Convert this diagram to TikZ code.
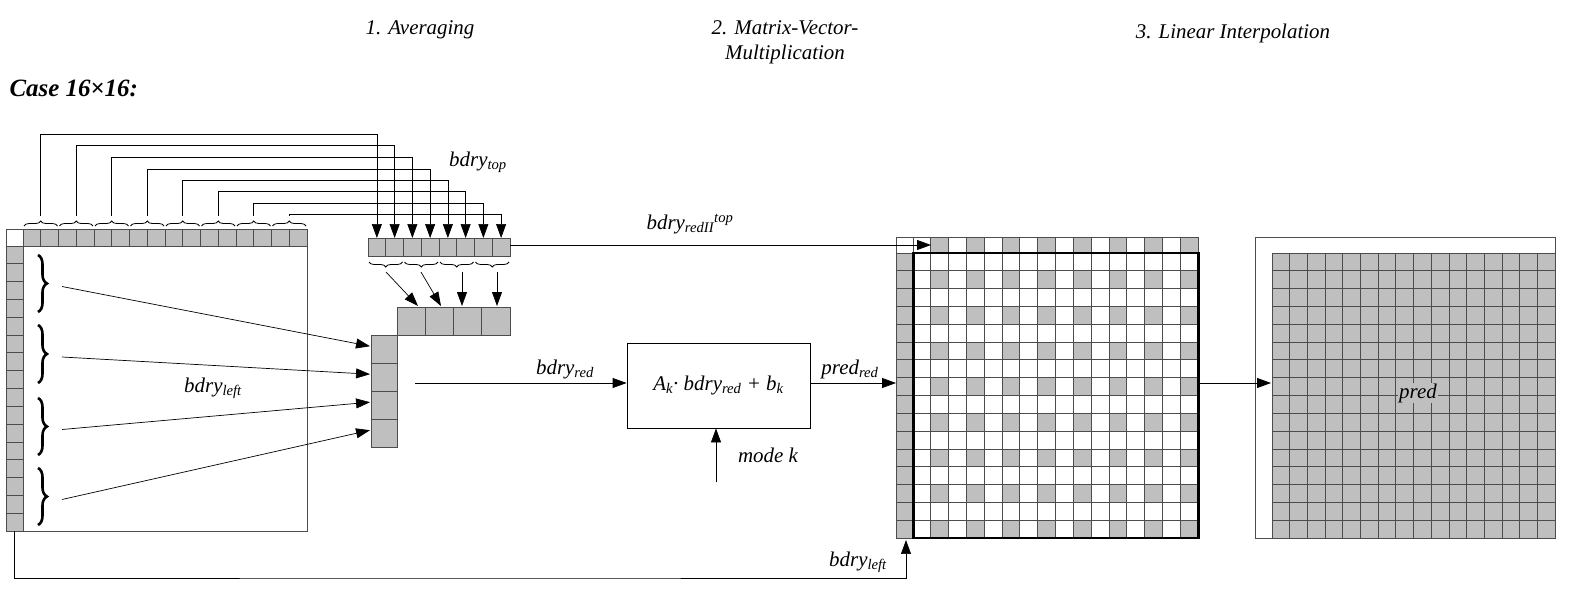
\documentclass[tikz,border=0pt]{standalone}
\usepackage{fontspec}
\setmainfont{Liberation Serif}
\usetikzlibrary{arrows.meta,decorations.pathreplacing}
\begin{document}
\begin{tikzpicture}[x=1bp,y=-1bp,
  cellg/.style={fill=gray!50,draw=black!70,line width=0.8pt},
  cellw/.style={fill=white,draw=black!70,line width=0.8pt},
  arr/.style={-{Triangle[length=14pt,width=10pt]},line width=0.7pt},
  ln/.style={line width=0.7pt},
  lab/.style={font=\fontsize{21}{25}\selectfont\itshape},
  sbrace/.style={decorate,decoration={brace,amplitude=5pt},line width=0.8pt},
  bbrace/.style={decorate,decoration={brace,amplitude=9pt},line width=2.6pt}]
\useasboundingbox (0,0) rectangle (1583,606);
% titles
\node[lab] (t1) at (420,30) {1. Averaging};
\node[lab,align=center] (t2) at (785,42) {2. Matrix-Vector-\\Multiplication};
\node[lab] (t3) at (1233,33) {3. Linear Interpolation};
\node[font=\fontsize{25}{29}\selectfont\bfseries\itshape,anchor=west] (case) at (6,88) {Case 16×16:};
% left matrix
\draw[cellw] (6,229) rectangle (307,531);
\foreach \i in {0,...,15}{
  \draw[cellg] ({23+\i*17.75},229) rectangle ({23+(\i+1)*17.75},246);
  \draw[cellg] (6,{246+\i*17.81}) rectangle (23,{246+(\i+1)*17.81});
}
% top braces and lines to small row
\foreach \k/\ty in {0/134,1/145,2/157,3/169,4/180,5/191,6/203,7/214}{
  \draw[sbrace] ({23+2*\k*17.75+1},226) -- ({23+(2*\k+2)*17.75-1},226);
  \coordinate (s\k) at ({23+(2*\k+1)*17.75},216);
  \coordinate (d\k) at ({368+(\k+0.5)*17.75},238);
  \coordinate (y\k) at (0,\ty);
  \draw[arr] (s\k) -- (s\k |- y\k) -| (d\k);
}
% small row
\foreach \i in {0,...,7}{
  \draw[cellg] ({368+\i*17.75},238) rectangle ({368+(\i+1)*17.75},256);
}
\foreach \k in {0,...,3}{
  \draw[sbrace] ({368+(2*\k+2)*17.75-1},262) -- ({368+2*\k*17.75+1},262);
}
\coordinate (b0) at (386,272); \coordinate (b1) at (421,272);
\coordinate (b2) at (462,272); \coordinate (b3) at (497,272);
\foreach \i in {0,...,3}{
  \draw[cellg] ({397+\i*28.25},307) rectangle ({397+(\i+1)*28.25},335);
}
\coordinate (e0) at (418,306); \coordinate (e1) at (441,306);
\coordinate (e2) at (462,306); \coordinate (e3) at (497,306);
\foreach \k in {0,...,3}{\draw[arr] (b\k) -- (e\k);}
% vertical column
\foreach \i in {0,...,3}{
  \draw[cellg] (371,{335+\i*28}) rectangle (397,{335+(\i+1)*28});
}
% left braces
\foreach \k/\a/\b in {0/255/312,1/325/383,2/398/455,3/468/525}{
  \draw[bbrace] (38,\a) -- (38,\b);
  \coordinate (l\k) at (62,{(\a+\b)/2+3});
  \coordinate (c\k) at (370,{335+(\k+0.4)*28});
  \draw[arr] (l\k) -- (c\k);
}
\node[lab] (bl) at (213,388) {bdry\textsubscript{left}};
% matrix-vector
\node[draw,line width=0.8pt,minimum width=183bp,minimum height=85bp,lab] (A) at (718.5,385.5)
  {A\textsubscript{k}\textperiodcentered\ bdry\textsubscript{red} + b\textsubscript{k}};
\coordinate (r0) at (415,383);
\draw[arr] (r0) -- (A.west |- r0);
\node[lab] (br) at (565,369) {bdry\textsubscript{red}};
\coordinate (m0) at (716,482);
\draw[arr] (m0) -- (A.south -| m0);
\node[lab] (mk) at (768,455) {mode k};
% middle grid
\draw[cellw] (896,237) rectangle (913,253);
\foreach \i in {0,...,15}{
  \draw[cellg] (896,{253+\i*17.81}) rectangle (913,{253+(\i+1)*17.81});
  \ifodd\i \def\sty{cellg}\else \def\sty{cellw}\fi
  \draw[style=\sty] ({913+\i*17.81},237) rectangle ({913+(\i+1)*17.81},253);
  \foreach \j in {0,...,15}{
    \def\sty{cellw}
    \ifodd\i \ifodd\j \def\sty{cellg}\fi\fi
    \draw[style=\sty] ({913+\j*17.81},{253+\i*17.81}) rectangle ({913+(\j+1)*17.81},{253+(\i+1)*17.81});
  }
}
\draw[line width=3pt] (913,253) rectangle (1198,538);
\coordinate (g1) at (896,383);
\draw[arr] (A.east |- g1) -- (g1);
\node[lab] (pr) at (850,369) {pred\textsubscript{red}};
\coordinate (tt0) at (510,245); \coordinate (tt1) at (931,245);
\draw[arr] (tt0) -- (tt1);
\node[lab] (brt) at (690,224) {bdry\textsubscript{redII}\textsuperscript{top}};
\node[lab] (bt) at (478,162) {bdry\textsubscript{top}};
% right grid
\draw[cellw] (1255,237) rectangle (1555,538);
\foreach \i in {0,...,15}{\foreach \j in {0,...,15}{
  \draw[cellg] ({1272+\j*17.69},{253+\i*17.81}) rectangle ({1272+(\j+1)*17.69},{253+(\i+1)*17.81});
}}
\node[lab,fill=gray!50,inner sep=1pt] (pd) at (1418,393) {pred};
\coordinate (h0) at (1198,383); \coordinate (h1) at (1271,383);
\draw[arr] (h0) -- (h1);
% bottom line
\coordinate (q0) at (14,531); \coordinate (q1) at (906,540);
\draw[arr] (q0) |- (460,578) -| (q1);
\node[lab] (bl2) at (858,562) {bdry\textsubscript{left}};
\end{tikzpicture}
\end{document}
